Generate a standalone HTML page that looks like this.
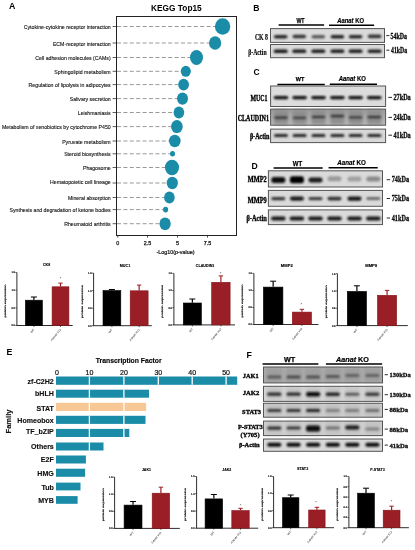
<!DOCTYPE html>
<html><head><meta charset="utf-8"><title>Figure</title>
<style>html,body{margin:0;padding:0;background:#fff;}body{width:415px;height:550px;overflow:hidden;}svg{display:block;}</style>
</head><body>
<svg width="415" height="550" viewBox="0 0 415 550">
<rect width="415" height="550" fill="#fff"/>
<text x="9.1" y="9.4" font-size="8.8" text-anchor="start" font-weight="bold" font-family="'Liberation Sans', Arial, sans-serif" fill="#000">A</text>
<text x="176.4" y="11.2" font-size="8.6" text-anchor="middle" font-weight="bold" font-family="'Liberation Sans', Arial, sans-serif" fill="#000" textLength="50.7" lengthAdjust="spacingAndGlyphs">KEGG Top15</text>
<line x1="117" y1="26.5" x2="222.6" y2="26.5" stroke="#8c8c8c" stroke-width="0.9" stroke-dasharray="4 2.4"/>
<line x1="117" y1="43.0" x2="215.1" y2="43.0" stroke="#8c8c8c" stroke-width="0.9" stroke-dasharray="4 2.4"/>
<line x1="117" y1="57.5" x2="196.5" y2="57.5" stroke="#8c8c8c" stroke-width="0.9" stroke-dasharray="4 2.4"/>
<line x1="117" y1="71.3" x2="185.8" y2="71.3" stroke="#8c8c8c" stroke-width="0.9" stroke-dasharray="4 2.4"/>
<line x1="117" y1="84.6" x2="183.6" y2="84.6" stroke="#8c8c8c" stroke-width="0.9" stroke-dasharray="4 2.4"/>
<line x1="117" y1="98.6" x2="182.5" y2="98.6" stroke="#8c8c8c" stroke-width="0.9" stroke-dasharray="4 2.4"/>
<line x1="117" y1="112.5" x2="178.9" y2="112.5" stroke="#8c8c8c" stroke-width="0.9" stroke-dasharray="4 2.4"/>
<line x1="117" y1="126.6" x2="176.9" y2="126.6" stroke="#8c8c8c" stroke-width="0.9" stroke-dasharray="4 2.4"/>
<line x1="117" y1="141.0" x2="174.8" y2="141.0" stroke="#8c8c8c" stroke-width="0.9" stroke-dasharray="4 2.4"/>
<line x1="117" y1="153.8" x2="172.5" y2="153.8" stroke="#8c8c8c" stroke-width="0.9" stroke-dasharray="4 2.4"/>
<line x1="117" y1="167.5" x2="172.0" y2="167.5" stroke="#8c8c8c" stroke-width="0.9" stroke-dasharray="4 2.4"/>
<line x1="117" y1="183.0" x2="172.3" y2="183.0" stroke="#8c8c8c" stroke-width="0.9" stroke-dasharray="4 2.4"/>
<line x1="117" y1="197.5" x2="169.4" y2="197.5" stroke="#8c8c8c" stroke-width="0.9" stroke-dasharray="4 2.4"/>
<line x1="117" y1="209.6" x2="165.6" y2="209.6" stroke="#8c8c8c" stroke-width="0.9" stroke-dasharray="4 2.4"/>
<line x1="117" y1="223.7" x2="165.1" y2="223.7" stroke="#8c8c8c" stroke-width="0.9" stroke-dasharray="4 2.4"/>
<text x="110.7" y="29.1" font-size="5.8" text-anchor="end" font-weight="normal" font-family="'Liberation Sans', Arial, sans-serif" fill="#111" textLength="86.99" lengthAdjust="spacingAndGlyphs" stroke="#111" stroke-width="0.12">Cytokine-cytokine receptor interaction</text>
<line x1="112.6" y1="26.5" x2="116.5" y2="26.5" stroke="#333" stroke-width="0.8"/>
<ellipse cx="222.6" cy="26.5" rx="7.7" ry="8.2" fill="#1a8ca8"/>
<text x="110.7" y="45.6" font-size="5.8" text-anchor="end" font-weight="normal" font-family="'Liberation Sans', Arial, sans-serif" fill="#111" textLength="57.8" lengthAdjust="spacingAndGlyphs" stroke="#111" stroke-width="0.12">ECM-receptor interaction</text>
<line x1="112.6" y1="43.0" x2="116.5" y2="43.0" stroke="#333" stroke-width="0.8"/>
<ellipse cx="215.1" cy="43.0" rx="6.1" ry="6.7" fill="#1a8ca8"/>
<text x="110.7" y="60.1" font-size="5.8" text-anchor="end" font-weight="normal" font-family="'Liberation Sans', Arial, sans-serif" fill="#111" textLength="75.42" lengthAdjust="spacingAndGlyphs" stroke="#111" stroke-width="0.12">Cell adhesion molecules (CAMs)</text>
<line x1="112.6" y1="57.5" x2="116.5" y2="57.5" stroke="#333" stroke-width="0.8"/>
<ellipse cx="196.5" cy="57.5" rx="6.5" ry="7.4" fill="#1a8ca8"/>
<text x="110.7" y="73.9" font-size="5.8" text-anchor="end" font-weight="normal" font-family="'Liberation Sans', Arial, sans-serif" fill="#111" textLength="56.36" lengthAdjust="spacingAndGlyphs" stroke="#111" stroke-width="0.12">Sphingolipid metabolism</text>
<line x1="112.6" y1="71.3" x2="116.5" y2="71.3" stroke="#333" stroke-width="0.8"/>
<ellipse cx="185.8" cy="71.3" rx="5.05" ry="5.5" fill="#1a8ca8"/>
<text x="110.7" y="87.2" font-size="5.8" text-anchor="end" font-weight="normal" font-family="'Liberation Sans', Arial, sans-serif" fill="#111" textLength="82.09" lengthAdjust="spacingAndGlyphs" stroke="#111" stroke-width="0.12">Regulation of lipolysis in adipocytes</text>
<line x1="112.6" y1="84.6" x2="116.5" y2="84.6" stroke="#333" stroke-width="0.8"/>
<ellipse cx="183.6" cy="84.6" rx="5.4" ry="5.8" fill="#1a8ca8"/>
<text x="110.7" y="101.2" font-size="5.8" text-anchor="end" font-weight="normal" font-family="'Liberation Sans', Arial, sans-serif" fill="#111" textLength="41.04" lengthAdjust="spacingAndGlyphs" stroke="#111" stroke-width="0.12">Salivary secretion</text>
<line x1="112.6" y1="98.6" x2="116.5" y2="98.6" stroke="#333" stroke-width="0.8"/>
<ellipse cx="182.5" cy="98.6" rx="5.5" ry="6.15" fill="#1a8ca8"/>
<text x="110.7" y="115.1" font-size="5.8" text-anchor="end" font-weight="normal" font-family="'Liberation Sans', Arial, sans-serif" fill="#111" textLength="32.95" lengthAdjust="spacingAndGlyphs" stroke="#111" stroke-width="0.12">Leishmaniasis</text>
<line x1="112.6" y1="112.5" x2="116.5" y2="112.5" stroke="#333" stroke-width="0.8"/>
<ellipse cx="178.9" cy="112.5" rx="5.3" ry="5.95" fill="#1a8ca8"/>
<text x="110.7" y="129.2" font-size="5.8" text-anchor="end" font-weight="normal" font-family="'Liberation Sans', Arial, sans-serif" fill="#111" textLength="108.67" lengthAdjust="spacingAndGlyphs" stroke="#111" stroke-width="0.12">Metabolism of xenobiotics by cytochrome P450</text>
<line x1="112.6" y1="126.6" x2="116.5" y2="126.6" stroke="#333" stroke-width="0.8"/>
<ellipse cx="176.9" cy="126.6" rx="5.85" ry="6.5" fill="#1a8ca8"/>
<text x="110.7" y="143.6" font-size="5.8" text-anchor="end" font-weight="normal" font-family="'Liberation Sans', Arial, sans-serif" fill="#111" textLength="48.55" lengthAdjust="spacingAndGlyphs" stroke="#111" stroke-width="0.12">Pyruvate metabolism</text>
<line x1="112.6" y1="141.0" x2="116.5" y2="141.0" stroke="#333" stroke-width="0.8"/>
<ellipse cx="174.8" cy="141.0" rx="5.8" ry="6.2" fill="#1a8ca8"/>
<text x="110.7" y="156.4" font-size="5.8" text-anchor="end" font-weight="normal" font-family="'Liberation Sans', Arial, sans-serif" fill="#111" textLength="46.53" lengthAdjust="spacingAndGlyphs" stroke="#111" stroke-width="0.12">Steroid biosynthesis</text>
<line x1="112.6" y1="153.8" x2="116.5" y2="153.8" stroke="#333" stroke-width="0.8"/>
<ellipse cx="172.5" cy="153.8" rx="2.5" ry="2.75" fill="#1a8ca8"/>
<text x="110.7" y="170.1" font-size="5.8" text-anchor="end" font-weight="normal" font-family="'Liberation Sans', Arial, sans-serif" fill="#111" textLength="27.75" lengthAdjust="spacingAndGlyphs" stroke="#111" stroke-width="0.12">Phagosome</text>
<line x1="112.6" y1="167.5" x2="116.5" y2="167.5" stroke="#333" stroke-width="0.8"/>
<ellipse cx="172.0" cy="167.5" rx="7.05" ry="7.8" fill="#1a8ca8"/>
<text x="110.7" y="184.0" font-size="5.8" text-anchor="end" font-weight="normal" font-family="'Liberation Sans', Arial, sans-serif" fill="#111" textLength="60.7" lengthAdjust="spacingAndGlyphs" stroke="#111" stroke-width="0.12">Hematopoietic cell lineage</text>
<line x1="112.6" y1="183.0" x2="116.5" y2="183.0" stroke="#333" stroke-width="0.8"/>
<ellipse cx="172.3" cy="183.0" rx="5.6" ry="6.25" fill="#1a8ca8"/>
<text x="110.7" y="200.1" font-size="5.8" text-anchor="end" font-weight="normal" font-family="'Liberation Sans', Arial, sans-serif" fill="#111" textLength="42.77" lengthAdjust="spacingAndGlyphs" stroke="#111" stroke-width="0.12">Mineral absorption</text>
<line x1="112.6" y1="197.5" x2="116.5" y2="197.5" stroke="#333" stroke-width="0.8"/>
<ellipse cx="169.4" cy="197.5" rx="5.3" ry="6.0" fill="#1a8ca8"/>
<text x="110.7" y="212.2" font-size="5.8" text-anchor="end" font-weight="normal" font-family="'Liberation Sans', Arial, sans-serif" fill="#111" textLength="101.18" lengthAdjust="spacingAndGlyphs" stroke="#111" stroke-width="0.12">Synthesis and degradation of ketone bodies</text>
<line x1="112.6" y1="209.6" x2="116.5" y2="209.6" stroke="#333" stroke-width="0.8"/>
<ellipse cx="165.6" cy="209.6" rx="2.55" ry="2.85" fill="#1a8ca8"/>
<text x="110.7" y="226.3" font-size="5.8" text-anchor="end" font-weight="normal" font-family="'Liberation Sans', Arial, sans-serif" fill="#111" textLength="46.53" lengthAdjust="spacingAndGlyphs" stroke="#111" stroke-width="0.12">Rheumatoid arthritis</text>
<line x1="112.6" y1="223.7" x2="116.5" y2="223.7" stroke="#333" stroke-width="0.8"/>
<ellipse cx="165.1" cy="223.7" rx="5.65" ry="6.3" fill="#1a8ca8"/>
<rect x="116.5" y="16.5" width="120" height="219" fill="none" stroke="#222" stroke-width="1"/>
<line x1="117.8" y1="235.5" x2="117.8" y2="237.6" stroke="#222" stroke-width="0.8"/>
<text x="117.8" y="245.0" font-size="5.4" text-anchor="middle" font-weight="normal" font-family="'Liberation Sans', Arial, sans-serif" fill="#111" stroke="#111" stroke-width="0.25">0</text>
<line x1="147.5" y1="235.5" x2="147.5" y2="237.6" stroke="#222" stroke-width="0.8"/>
<text x="147.5" y="245.0" font-size="5.4" text-anchor="middle" font-weight="normal" font-family="'Liberation Sans', Arial, sans-serif" fill="#111" stroke="#111" stroke-width="0.25">2.5</text>
<line x1="177.5" y1="235.5" x2="177.5" y2="237.6" stroke="#222" stroke-width="0.8"/>
<text x="177.5" y="245.0" font-size="5.4" text-anchor="middle" font-weight="normal" font-family="'Liberation Sans', Arial, sans-serif" fill="#111" stroke="#111" stroke-width="0.25">5</text>
<line x1="207.5" y1="235.5" x2="207.5" y2="237.6" stroke="#222" stroke-width="0.8"/>
<text x="207.5" y="245.0" font-size="5.4" text-anchor="middle" font-weight="normal" font-family="'Liberation Sans', Arial, sans-serif" fill="#111" stroke="#111" stroke-width="0.25">7.5</text>
<text x="175.5" y="253.9" font-size="5.6" text-anchor="middle" font-weight="normal" font-family="'Liberation Sans', Arial, sans-serif" fill="#111" textLength="38" lengthAdjust="spacingAndGlyphs" stroke="#111" stroke-width="0.22">-Log10(p-value)</text>
<defs><filter id="b1" x="-30%" y="-80%" width="160%" height="260%"><feGaussianBlur stdDeviation="0.8"/></filter><filter id="b2" x="-30%" y="-80%" width="160%" height="260%"><feGaussianBlur stdDeviation="1.1"/></filter><filter id="b3" x="-30%" y="-30%" width="160%" height="160%"><feGaussianBlur stdDeviation="1.5"/></filter></defs>
<text x="253.2" y="11.0" font-size="8.6" text-anchor="start" font-weight="bold" font-family="'Liberation Sans', Arial, sans-serif" fill="#000">B</text>
<text x="296.4" y="23.4" font-size="7.1" text-anchor="start" font-weight="bold" font-family="'Liberation Sans', Arial, sans-serif" fill="#000" textLength="8.2" lengthAdjust="spacingAndGlyphs" stroke="#000" stroke-width="0.25">WT</text>
<line x1="278.6" y1="25.1" x2="324.1" y2="25.1" stroke="#000" stroke-width="1.5"/>
<text x="337.3" y="22.8" font-size="7.4" font-weight="bold" font-family="'Liberation Sans', Arial, sans-serif" stroke="#000" stroke-width="0.2" textLength="26.7" lengthAdjust="spacingAndGlyphs"><tspan font-style="italic">Aanat</tspan> KO</text>
<line x1="329.0" y1="25.2" x2="374.1" y2="25.2" stroke="#000" stroke-width="1.5"/>
<rect x="270.5" y="28.6" width="114.0" height="13.8" fill="#dadada"/>
<rect x="270.5" y="28.6" width="114.0" height="13.8" fill="none" stroke="#555" stroke-width="1"/>
<rect x="273.90" y="35.00" width="13.6" height="3.6" rx="1.8" fill="#262626" filter="url(#b1)"/>
<rect x="292.50" y="34.70" width="13.6" height="3.6" rx="1.8" fill="#303030" filter="url(#b1)"/>
<rect x="311.50" y="35.00" width="13.6" height="3.6" rx="1.8" fill="#5a5a5a" filter="url(#b1)"/>
<rect x="330.60" y="35.00" width="13.6" height="3.6" rx="1.8" fill="#202020" filter="url(#b1)"/>
<rect x="348.80" y="35.00" width="13.6" height="3.6" rx="1.8" fill="#282828" filter="url(#b1)"/>
<rect x="367.80" y="34.60" width="13.6" height="3.6" rx="1.8" fill="#353535" filter="url(#b1)"/>
<rect x="270.5" y="44.5" width="114.0" height="13.2" fill="#dadada"/>
<rect x="270.5" y="44.5" width="114.0" height="13.2" fill="none" stroke="#555" stroke-width="1"/>
<rect x="273.70" y="49.40" width="14" height="3.6" rx="1.8" fill="#151515" filter="url(#b1)"/>
<rect x="292.30" y="49.40" width="14" height="3.6" rx="1.8" fill="#1a1a1a" filter="url(#b1)"/>
<rect x="311.30" y="49.40" width="14" height="3.6" rx="1.8" fill="#1a1a1a" filter="url(#b1)"/>
<rect x="330.40" y="49.40" width="14" height="3.6" rx="1.8" fill="#1a1a1a" filter="url(#b1)"/>
<rect x="348.60" y="49.40" width="14" height="3.6" rx="1.8" fill="#1a1a1a" filter="url(#b1)"/>
<rect x="367.60" y="49.40" width="14" height="3.6" rx="1.8" fill="#222" filter="url(#b1)"/>
<text x="268" y="39.9" font-size="7.2" text-anchor="end" font-weight="bold" font-family="'Liberation Serif', 'Times New Roman', serif" fill="#000" textLength="13.1" lengthAdjust="spacingAndGlyphs" stroke="#000" stroke-width="0.15">CK 8</text>
<text x="266.6" y="54.9" font-size="7.2" text-anchor="end" font-weight="bold" font-family="'Liberation Serif', 'Times New Roman', serif" fill="#000" textLength="18.4" lengthAdjust="spacingAndGlyphs" stroke="#000" stroke-width="0.15">β-Actin</text>
<line x1="386.3" y1="35.6" x2="389.4" y2="35.6" stroke="#111" stroke-width="0.9"/>
<text x="390.5" y="38.5" font-size="7.6" text-anchor="start" font-weight="bold" font-family="'Liberation Serif', 'Times New Roman', serif" fill="#111" textLength="16.6" lengthAdjust="spacingAndGlyphs" stroke="#111" stroke-width="0.32">54kDa</text>
<line x1="386.3" y1="50.2" x2="389.4" y2="50.2" stroke="#111" stroke-width="0.9"/>
<text x="391.0" y="53.1" font-size="7.6" text-anchor="start" font-weight="bold" font-family="'Liberation Serif', 'Times New Roman', serif" fill="#111" textLength="16.1" lengthAdjust="spacingAndGlyphs" stroke="#111" stroke-width="0.32">41kDa</text>
<text x="253.6" y="74.6" font-size="8.6" text-anchor="start" font-weight="bold" font-family="'Liberation Sans', Arial, sans-serif" fill="#000">C</text>
<text x="295.8" y="81.1" font-size="6.0" text-anchor="start" font-weight="bold" font-family="'Liberation Sans', Arial, sans-serif" fill="#000" textLength="8.5" lengthAdjust="spacingAndGlyphs" stroke="#000" stroke-width="0.25">WT</text>
<line x1="277.4" y1="84.4" x2="324.8" y2="84.4" stroke="#000" stroke-width="1.5"/>
<text x="338.7" y="80.6" font-size="7.2" font-weight="bold" font-family="'Liberation Sans', Arial, sans-serif" stroke="#000" stroke-width="0.2" textLength="27.2" lengthAdjust="spacingAndGlyphs"><tspan font-style="italic">Aanat</tspan> KO</text>
<line x1="329.8" y1="84.2" x2="377.0" y2="84.2" stroke="#000" stroke-width="1.5"/>
<rect x="270.6" y="86.0" width="115.0" height="20.5" fill="#dcdcdc"/>
<rect x="270.6" y="86.0" width="115.0" height="20.5" fill="none" stroke="#555" stroke-width="1"/>
<rect x="273.75" y="95.90" width="14.5" height="3.4" rx="1.7" fill="#080808" filter="url(#b1)"/>
<rect x="292.35" y="95.90" width="14.5" height="3.4" rx="1.7" fill="#080808" filter="url(#b1)"/>
<rect x="311.25" y="95.90" width="14.5" height="3.4" rx="1.7" fill="#080808" filter="url(#b1)"/>
<rect x="330.15" y="95.90" width="14.5" height="3.4" rx="1.7" fill="#080808" filter="url(#b1)"/>
<rect x="348.35" y="95.90" width="14.5" height="3.4" rx="1.7" fill="#080808" filter="url(#b1)"/>
<rect x="367.05" y="95.90" width="14.5" height="3.4" rx="1.7" fill="#080808" filter="url(#b1)"/>
<defs><linearGradient id="lg113" x1="0" y1="0" x2="0" y2="1"><stop offset="0" stop-color="#9a9a9a"/><stop offset="1" stop-color="#bababa"/></linearGradient></defs>
<rect x="270.6" y="109.1" width="115.0" height="16.1" fill="url(#lg113)"/>
<rect x="274.00" y="110.1" width="14" height="14.1" fill="#8e8e8e" filter="url(#b3)"/>
<rect x="292.60" y="110.1" width="14" height="14.1" fill="#8e8e8e" filter="url(#b3)"/>
<rect x="311.50" y="110.1" width="14" height="14.1" fill="#8e8e8e" filter="url(#b3)"/>
<rect x="330.40" y="110.1" width="14" height="14.1" fill="#8e8e8e" filter="url(#b3)"/>
<rect x="348.60" y="110.1" width="14" height="14.1" fill="#8e8e8e" filter="url(#b3)"/>
<rect x="367.30" y="110.1" width="14" height="14.1" fill="#8e8e8e" filter="url(#b3)"/>
<rect x="270.6" y="109.1" width="115.0" height="16.1" fill="none" stroke="#555" stroke-width="1"/>
<rect x="274.25" y="116.50" width="13.5" height="2.2" rx="1.1" fill="#333" filter="url(#b1)"/>
<rect x="292.85" y="116.70" width="13.5" height="2.2" rx="1.1" fill="#404040" filter="url(#b1)"/>
<rect x="311.75" y="115.90" width="13.5" height="2.2" rx="1.1" fill="#2e2e2e" filter="url(#b1)"/>
<rect x="330.65" y="115.10" width="13.5" height="2.2" rx="1.1" fill="#2e2e2e" filter="url(#b1)"/>
<rect x="348.85" y="116.30" width="13.5" height="2.2" rx="1.1" fill="#383838" filter="url(#b1)"/>
<rect x="367.55" y="116.10" width="13.5" height="2.2" rx="1.1" fill="#2e2e2e" filter="url(#b1)"/>
<rect x="270.6" y="129.1" width="115.0" height="13.5" fill="#d8d8d8"/>
<rect x="270.6" y="129.1" width="115.0" height="13.5" fill="none" stroke="#555" stroke-width="1"/>
<rect x="274.00" y="133.90" width="14" height="3.0" rx="1.5" fill="#262626" filter="url(#b1)"/>
<rect x="292.60" y="133.90" width="14" height="3.0" rx="1.5" fill="#262626" filter="url(#b1)"/>
<rect x="311.50" y="133.90" width="14" height="3.0" rx="1.5" fill="#262626" filter="url(#b1)"/>
<rect x="330.40" y="133.90" width="14" height="3.0" rx="1.5" fill="#262626" filter="url(#b1)"/>
<rect x="348.60" y="133.90" width="14" height="3.0" rx="1.5" fill="#262626" filter="url(#b1)"/>
<rect x="367.30" y="133.90" width="14" height="3.0" rx="1.5" fill="#262626" filter="url(#b1)"/>
<text x="267.4" y="100.6" font-size="7.3" text-anchor="end" font-weight="bold" font-family="'Liberation Serif', 'Times New Roman', serif" fill="#000" textLength="17" lengthAdjust="spacingAndGlyphs" stroke="#000" stroke-width="0.32">MUC1</text>
<text x="269.0" y="120.8" font-size="7.3" text-anchor="end" font-weight="bold" font-family="'Liberation Serif', 'Times New Roman', serif" fill="#000" textLength="31.3" lengthAdjust="spacingAndGlyphs" stroke="#000" stroke-width="0.32">CLAUDIN1</text>
<text x="269.4" y="139.2" font-size="7.3" text-anchor="end" font-weight="bold" font-family="'Liberation Serif', 'Times New Roman', serif" fill="#000" textLength="19.5" lengthAdjust="spacingAndGlyphs" stroke="#000" stroke-width="0.32">β-Actin</text>
<line x1="388.3" y1="97.4" x2="392.0" y2="97.4" stroke="#111" stroke-width="0.9"/>
<text x="393.5" y="99.9" font-size="7.2" text-anchor="start" font-weight="bold" font-family="'Liberation Serif', 'Times New Roman', serif" fill="#111" textLength="17.2" lengthAdjust="spacingAndGlyphs" stroke="#111" stroke-width="0.32">27kDa</text>
<line x1="388.3" y1="117.4" x2="392.0" y2="117.4" stroke="#111" stroke-width="0.9"/>
<text x="393.5" y="119.9" font-size="7.2" text-anchor="start" font-weight="bold" font-family="'Liberation Serif', 'Times New Roman', serif" fill="#111" textLength="17.2" lengthAdjust="spacingAndGlyphs" stroke="#111" stroke-width="0.32">24kDa</text>
<line x1="388.3" y1="135.2" x2="392.0" y2="135.2" stroke="#111" stroke-width="0.9"/>
<text x="393.5" y="137.7" font-size="7.2" text-anchor="start" font-weight="bold" font-family="'Liberation Serif', 'Times New Roman', serif" fill="#111" textLength="17.2" lengthAdjust="spacingAndGlyphs" stroke="#111" stroke-width="0.32">41kDa</text>
<text x="251.4" y="168.8" font-size="8.6" text-anchor="start" font-weight="bold" font-family="'Liberation Sans', Arial, sans-serif" fill="#000">D</text>
<text x="292.7" y="165.6" font-size="7.7" text-anchor="start" font-weight="bold" font-family="'Liberation Sans', Arial, sans-serif" fill="#000" textLength="9.4" lengthAdjust="spacingAndGlyphs" stroke="#000" stroke-width="0.25">WT</text>
<line x1="273.6" y1="167.9" x2="322.7" y2="167.9" stroke="#000" stroke-width="1.5"/>
<text x="337.3" y="165.3" font-size="8.1" font-weight="bold" font-family="'Liberation Sans', Arial, sans-serif" stroke="#000" stroke-width="0.2" textLength="28.5" lengthAdjust="spacingAndGlyphs"><tspan font-style="italic">Aanat</tspan> KO</text>
<line x1="328.6" y1="167.7" x2="377.7" y2="167.7" stroke="#000" stroke-width="1.5"/>
<rect x="268.4" y="170.8" width="114.1" height="16.2" fill="#dadada"/>
<rect x="268.4" y="170.8" width="114.1" height="16.2" fill="none" stroke="#555" stroke-width="1"/>
<rect x="271.30" y="177.00" width="14" height="6" rx="2.5" fill="#101010" filter="url(#b1)"/>
<rect x="289.90" y="176.20" width="14" height="7" rx="2.5" fill="#050505" filter="url(#b1)"/>
<rect x="308.50" y="177.50" width="14" height="5" rx="2.5" fill="#1c1c1c" filter="url(#b1)"/>
<rect x="327.50" y="176.30" width="14" height="5" rx="2.5" fill="#9a9a9a" filter="url(#b1)"/>
<rect x="347.50" y="176.50" width="14" height="5" rx="2.5" fill="#a0a0a0" filter="url(#b1)"/>
<rect x="366.30" y="176.50" width="14" height="5" rx="2.5" fill="#8a8a8a" filter="url(#b1)"/>
<rect x="268.4" y="190.4" width="114.1" height="15.9" fill="#dadada"/>
<rect x="268.4" y="190.4" width="114.1" height="15.9" fill="none" stroke="#555" stroke-width="1"/>
<rect x="271.30" y="197.00" width="14" height="3.2" rx="1.6" fill="#363636" filter="url(#b1)"/>
<rect x="289.90" y="196.50" width="14" height="4.2" rx="2.1" fill="#1a1a1a" filter="url(#b1)"/>
<rect x="308.50" y="196.90" width="14" height="3.4" rx="1.7" fill="#3c3c3c" filter="url(#b1)"/>
<rect x="327.50" y="196.80" width="14" height="3.6" rx="1.8" fill="#303030" filter="url(#b1)"/>
<rect x="347.50" y="196.40" width="14" height="4.4" rx="2.2" fill="#121212" filter="url(#b1)"/>
<rect x="366.30" y="197.10" width="14" height="3.0" rx="1.5" fill="#6a6a6a" filter="url(#b1)"/>
<rect x="268.4" y="209.9" width="114.1" height="14.7" fill="#dadada"/>
<rect x="268.4" y="209.9" width="114.1" height="14.7" fill="none" stroke="#555" stroke-width="1"/>
<rect x="271.05" y="216.40" width="14.5" height="4.0" rx="2.0" fill="#161616" filter="url(#b1)"/>
<rect x="289.65" y="216.40" width="14.5" height="4.0" rx="2.0" fill="#161616" filter="url(#b1)"/>
<rect x="308.25" y="216.40" width="14.5" height="4.0" rx="2.0" fill="#161616" filter="url(#b1)"/>
<rect x="327.25" y="216.40" width="14.5" height="4.0" rx="2.0" fill="#161616" filter="url(#b1)"/>
<rect x="347.25" y="216.40" width="14.5" height="4.0" rx="2.0" fill="#161616" filter="url(#b1)"/>
<rect x="366.05" y="216.40" width="14.5" height="4.0" rx="2.0" fill="#161616" filter="url(#b1)"/>
<text x="266.8" y="182.0" font-size="7.4" text-anchor="end" font-weight="bold" font-family="'Liberation Serif', 'Times New Roman', serif" fill="#000" textLength="19" lengthAdjust="spacingAndGlyphs" stroke="#000" stroke-width="0.32">MMP2</text>
<text x="266.8" y="202.8" font-size="7.4" text-anchor="end" font-weight="bold" font-family="'Liberation Serif', 'Times New Roman', serif" fill="#000" textLength="19" lengthAdjust="spacingAndGlyphs" stroke="#000" stroke-width="0.32">MMP9</text>
<text x="266.8" y="220.6" font-size="7.4" text-anchor="end" font-weight="bold" font-family="'Liberation Serif', 'Times New Roman', serif" fill="#000" textLength="20.3" lengthAdjust="spacingAndGlyphs" stroke="#000" stroke-width="0.32">β-Actin</text>
<line x1="386.7" y1="179.7" x2="390.0" y2="179.7" stroke="#111" stroke-width="0.9"/>
<text x="391.7" y="182.4" font-size="8.0" text-anchor="start" font-weight="bold" font-family="'Liberation Serif', 'Times New Roman', serif" fill="#111" textLength="17.4" lengthAdjust="spacingAndGlyphs" stroke="#111" stroke-width="0.32">74kDa</text>
<line x1="386.7" y1="198.5" x2="390.0" y2="198.5" stroke="#111" stroke-width="0.9"/>
<text x="391.7" y="201.1" font-size="8.0" text-anchor="start" font-weight="bold" font-family="'Liberation Serif', 'Times New Roman', serif" fill="#111" textLength="17.4" lengthAdjust="spacingAndGlyphs" stroke="#111" stroke-width="0.32">75kDa</text>
<line x1="386.7" y1="218.0" x2="390.0" y2="218.0" stroke="#111" stroke-width="0.9"/>
<text x="391.7" y="220.6" font-size="8.0" text-anchor="start" font-weight="bold" font-family="'Liberation Serif', 'Times New Roman', serif" fill="#111" textLength="17.4" lengthAdjust="spacingAndGlyphs" stroke="#111" stroke-width="0.32">41kDa</text>
<text x="246.5" y="358.4" font-size="8.8" text-anchor="start" font-weight="bold" font-family="'Liberation Sans', Arial, sans-serif" fill="#000">F</text>
<text x="284.0" y="362.2" font-size="7.2" text-anchor="start" font-weight="bold" font-family="'Liberation Sans', Arial, sans-serif" fill="#000" textLength="11.2" lengthAdjust="spacingAndGlyphs" stroke="#000" stroke-width="0.25">WT</text>
<line x1="262.6" y1="364.0" x2="318.4" y2="364.0" stroke="#000" stroke-width="1.5"/>
<text x="336.0" y="361.8" font-size="7.1" font-weight="bold" font-family="'Liberation Sans', Arial, sans-serif" stroke="#000" stroke-width="0.2" textLength="32.9" lengthAdjust="spacingAndGlyphs"><tspan font-style="italic">Aanat</tspan> KO</text>
<line x1="325.9" y1="364.0" x2="382.1" y2="364.0" stroke="#000" stroke-width="1.5"/>
<rect x="263.5" y="367.0" width="119.0" height="15.9" fill="#ababab"/>
<rect x="266.30" y="368.0" width="16" height="13.9" fill="#9e9e9e" filter="url(#b3)"/>
<rect x="285.60" y="368.0" width="16" height="13.9" fill="#9e9e9e" filter="url(#b3)"/>
<rect x="305.10" y="368.0" width="16" height="13.9" fill="#9e9e9e" filter="url(#b3)"/>
<rect x="324.80" y="368.0" width="16" height="13.9" fill="#9e9e9e" filter="url(#b3)"/>
<rect x="344.30" y="368.0" width="16" height="13.9" fill="#9e9e9e" filter="url(#b3)"/>
<rect x="364.40" y="368.0" width="16" height="13.9" fill="#9e9e9e" filter="url(#b3)"/>
<rect x="263.5" y="367.0" width="119.0" height="15.9" fill="none" stroke="#555" stroke-width="1"/>
<rect x="267.30" y="375.50" width="14" height="3.0" rx="1.5" fill="#585858" filter="url(#b2)"/>
<rect x="286.60" y="375.50" width="14" height="3.0" rx="1.5" fill="#4a4a4a" filter="url(#b2)"/>
<rect x="306.10" y="375.50" width="14" height="3.0" rx="1.5" fill="#505050" filter="url(#b2)"/>
<rect x="325.80" y="374.90" width="14" height="3.0" rx="1.5" fill="#575757" filter="url(#b2)"/>
<rect x="345.30" y="374.10" width="14" height="3.0" rx="1.5" fill="#606060" filter="url(#b2)"/>
<rect x="365.40" y="373.90" width="14" height="3.0" rx="1.5" fill="#626262" filter="url(#b2)"/>
<rect x="263.5" y="386.3" width="119.0" height="15.1" fill="#d4d4d4"/>
<rect x="266.80" y="387.3" width="15" height="13.1" fill="#c6c6c6" filter="url(#b3)"/>
<rect x="286.10" y="387.3" width="15" height="13.1" fill="#c6c6c6" filter="url(#b3)"/>
<rect x="305.60" y="387.3" width="15" height="13.1" fill="#c6c6c6" filter="url(#b3)"/>
<rect x="325.30" y="387.3" width="15" height="13.1" fill="#c6c6c6" filter="url(#b3)"/>
<rect x="344.80" y="387.3" width="15" height="13.1" fill="#c6c6c6" filter="url(#b3)"/>
<rect x="364.90" y="387.3" width="15" height="13.1" fill="#c6c6c6" filter="url(#b3)"/>
<rect x="263.5" y="386.3" width="119.0" height="15.1" fill="none" stroke="#555" stroke-width="1"/>
<rect x="267.20" y="392.60" width="14.2" height="3.2" rx="1.6" fill="#2a2a2a" filter="url(#b1)"/>
<rect x="286.50" y="392.60" width="14.2" height="3.2" rx="1.6" fill="#2c2c2c" filter="url(#b1)"/>
<rect x="306.00" y="391.90" width="14.2" height="4.6" rx="2.3" fill="#0e0e0e" filter="url(#b1)"/>
<rect x="325.70" y="392.40" width="14.2" height="3.6" rx="1.8" fill="#262626" filter="url(#b1)"/>
<rect x="345.20" y="392.70" width="14.2" height="3" rx="1.5" fill="#5a5a5a" filter="url(#b1)"/>
<rect x="365.30" y="392.50" width="14.2" height="3.4" rx="1.7" fill="#3e3e3e" filter="url(#b1)"/>
<rect x="263.5" y="403.3" width="119.0" height="13.9" fill="#cdcdcd"/>
<rect x="266.80" y="404.3" width="15" height="11.9" fill="#c0c0c0" filter="url(#b3)"/>
<rect x="286.10" y="404.3" width="15" height="11.9" fill="#c0c0c0" filter="url(#b3)"/>
<rect x="305.60" y="404.3" width="15" height="11.9" fill="#c0c0c0" filter="url(#b3)"/>
<rect x="325.30" y="404.3" width="15" height="11.9" fill="#c0c0c0" filter="url(#b3)"/>
<rect x="344.80" y="404.3" width="15" height="11.9" fill="#c0c0c0" filter="url(#b3)"/>
<rect x="364.90" y="404.3" width="15" height="11.9" fill="#c0c0c0" filter="url(#b3)"/>
<rect x="263.5" y="403.3" width="119.0" height="13.9" fill="none" stroke="#555" stroke-width="1"/>
<rect x="267.20" y="409.00" width="14.2" height="3.0" rx="1.5" fill="#3a3a3a" filter="url(#b1)"/>
<rect x="286.50" y="409.00" width="14.2" height="3.0" rx="1.5" fill="#333" filter="url(#b1)"/>
<rect x="306.00" y="409.00" width="14.2" height="3.0" rx="1.5" fill="#222" filter="url(#b1)"/>
<rect x="325.70" y="409.00" width="14.2" height="3.0" rx="1.5" fill="#808080" filter="url(#b1)"/>
<rect x="345.20" y="409.00" width="14.2" height="3.0" rx="1.5" fill="#7c7c7c" filter="url(#b1)"/>
<rect x="365.30" y="409.00" width="14.2" height="3.0" rx="1.5" fill="#6e6e6e" filter="url(#b1)"/>
<rect x="263.5" y="421.1" width="119.0" height="14.5" fill="#cfcfcf"/>
<rect x="266.80" y="422.1" width="15" height="12.5" fill="#c2c2c2" filter="url(#b3)"/>
<rect x="286.10" y="422.1" width="15" height="12.5" fill="#c2c2c2" filter="url(#b3)"/>
<rect x="305.60" y="422.1" width="15" height="12.5" fill="#c2c2c2" filter="url(#b3)"/>
<rect x="325.30" y="422.1" width="15" height="12.5" fill="#c2c2c2" filter="url(#b3)"/>
<rect x="344.80" y="422.1" width="15" height="12.5" fill="#c2c2c2" filter="url(#b3)"/>
<rect x="364.90" y="422.1" width="15" height="12.5" fill="#c2c2c2" filter="url(#b3)"/>
<rect x="263.5" y="421.1" width="119.0" height="14.5" fill="none" stroke="#555" stroke-width="1"/>
<rect x="267.20" y="426.50" width="14.2" height="3.2" rx="1.6" fill="#303030" filter="url(#b1)"/>
<rect x="286.50" y="426.60" width="14.2" height="3.0" rx="1.5" fill="#383838" filter="url(#b1)"/>
<rect x="306.00" y="425.40" width="14.2" height="6" rx="2.5" fill="#080808" filter="url(#b1)"/>
<rect x="325.70" y="426.60" width="14.2" height="3" rx="1.5" fill="#727272" filter="url(#b1)"/>
<rect x="345.20" y="425.50" width="14.2" height="4" rx="2.0" fill="#1a1a1a" filter="url(#b1)"/>
<rect x="365.30" y="427.40" width="14.2" height="3" rx="1.5" fill="#828282" filter="url(#b1)"/>
<rect x="263.5" y="439.0" width="119.0" height="12.3" fill="#d8d8d8"/>
<rect x="263.5" y="439.0" width="119.0" height="12.3" fill="none" stroke="#555" stroke-width="1"/>
<rect x="267.20" y="442.80" width="14.2" height="4.0" rx="2.0" fill="#111" filter="url(#b1)"/>
<rect x="286.50" y="442.80" width="14.2" height="4.0" rx="2.0" fill="#111" filter="url(#b1)"/>
<rect x="306.00" y="442.80" width="14.2" height="4.0" rx="2.0" fill="#111" filter="url(#b1)"/>
<rect x="325.70" y="442.80" width="14.2" height="4.0" rx="2.0" fill="#111" filter="url(#b1)"/>
<rect x="345.20" y="442.80" width="14.2" height="4.0" rx="2.0" fill="#111" filter="url(#b1)"/>
<rect x="365.30" y="442.80" width="14.2" height="4.0" rx="2.0" fill="#111" filter="url(#b1)"/>
<text x="258.7" y="377.8" font-size="6.8" text-anchor="end" font-weight="bold" font-family="'Liberation Serif', 'Times New Roman', serif" fill="#000" textLength="16" lengthAdjust="spacingAndGlyphs" stroke="#000" stroke-width="0.32">JAK1</text>
<text x="259.3" y="395.4" font-size="6.8" text-anchor="end" font-weight="bold" font-family="'Liberation Serif', 'Times New Roman', serif" fill="#000" textLength="16.6" lengthAdjust="spacingAndGlyphs" stroke="#000" stroke-width="0.32">JAK2</text>
<text x="261.0" y="414.0" font-size="6.8" text-anchor="end" font-weight="bold" font-family="'Liberation Serif', 'Times New Roman', serif" fill="#000" textLength="18.9" lengthAdjust="spacingAndGlyphs" stroke="#000" stroke-width="0.32">STAT3</text>
<text x="262.8" y="429.4" font-size="6.6" text-anchor="end" font-weight="bold" font-family="'Liberation Serif', 'Times New Roman', serif" fill="#000" textLength="24.9" lengthAdjust="spacingAndGlyphs" stroke="#000" stroke-width="0.32">P-STAT3</text>
<text x="259.6" y="436.8" font-size="6.6" text-anchor="end" font-weight="bold" font-family="'Liberation Serif', 'Times New Roman', serif" fill="#000" textLength="19.0" lengthAdjust="spacingAndGlyphs" stroke="#000" stroke-width="0.32">(Y705)</text>
<text x="259.6" y="446.5" font-size="6.6" text-anchor="end" font-weight="bold" font-family="'Liberation Serif', 'Times New Roman', serif" fill="#000" textLength="20.6" lengthAdjust="spacingAndGlyphs" stroke="#000" stroke-width="0.32">β-Actin</text>
<line x1="384.7" y1="374.7" x2="387.9" y2="374.7" stroke="#111" stroke-width="0.9"/>
<text x="389.5" y="377.2" font-size="6.8" text-anchor="start" font-weight="bold" font-family="'Liberation Serif', 'Times New Roman', serif" fill="#111" textLength="21.3" lengthAdjust="spacingAndGlyphs" stroke="#111" stroke-width="0.32">130kDa</text>
<line x1="384.7" y1="394.7" x2="387.9" y2="394.7" stroke="#111" stroke-width="0.9"/>
<text x="389.5" y="397.2" font-size="6.8" text-anchor="start" font-weight="bold" font-family="'Liberation Serif', 'Times New Roman', serif" fill="#111" textLength="21.3" lengthAdjust="spacingAndGlyphs" stroke="#111" stroke-width="0.32">130kDa</text>
<line x1="384.7" y1="409.4" x2="387.9" y2="409.4" stroke="#111" stroke-width="0.9"/>
<text x="389.5" y="411.9" font-size="6.8" text-anchor="start" font-weight="bold" font-family="'Liberation Serif', 'Times New Roman', serif" fill="#111" textLength="18.6" lengthAdjust="spacingAndGlyphs" stroke="#111" stroke-width="0.32">88kDa</text>
<line x1="384.7" y1="429.1" x2="387.9" y2="429.1" stroke="#111" stroke-width="0.9"/>
<text x="389.5" y="431.6" font-size="6.8" text-anchor="start" font-weight="bold" font-family="'Liberation Serif', 'Times New Roman', serif" fill="#111" textLength="18.6" lengthAdjust="spacingAndGlyphs" stroke="#111" stroke-width="0.32">88kDa</text>
<line x1="384.7" y1="445.1" x2="387.9" y2="445.1" stroke="#111" stroke-width="0.9"/>
<text x="389.5" y="447.6" font-size="6.8" text-anchor="start" font-weight="bold" font-family="'Liberation Serif', 'Times New Roman', serif" fill="#111" textLength="18.6" lengthAdjust="spacingAndGlyphs" stroke="#111" stroke-width="0.32">41kDa</text>
<line x1="16.9" y1="272.5" x2="16.9" y2="325.5" stroke="#222" stroke-width="0.95"/>
<line x1="16.4" y1="325.5" x2="72.7" y2="325.5" stroke="#222" stroke-width="0.95"/>
<line x1="15.299999999999999" y1="325.50" x2="16.9" y2="325.50" stroke="#222" stroke-width="0.7"/>
<text x="0" y="0" font-size="10" text-rendering="geometricPrecision" text-anchor="end" font-weight="normal" font-family="'Liberation Sans', Arial, sans-serif" fill="#111" stroke="#111" stroke-width="0.69" transform="translate(15.00,326.40) scale(0.260)">0.0</text>
<line x1="15.299999999999999" y1="307.83" x2="16.9" y2="307.83" stroke="#222" stroke-width="0.7"/>
<text x="0" y="0" font-size="10" text-rendering="geometricPrecision" text-anchor="end" font-weight="normal" font-family="'Liberation Sans', Arial, sans-serif" fill="#111" stroke="#111" stroke-width="0.69" transform="translate(15.00,308.73) scale(0.260)">0.5</text>
<line x1="15.299999999999999" y1="290.17" x2="16.9" y2="290.17" stroke="#222" stroke-width="0.7"/>
<text x="0" y="0" font-size="10" text-rendering="geometricPrecision" text-anchor="end" font-weight="normal" font-family="'Liberation Sans', Arial, sans-serif" fill="#111" stroke="#111" stroke-width="0.69" transform="translate(15.00,291.07) scale(0.260)">1.0</text>
<line x1="15.299999999999999" y1="272.50" x2="16.9" y2="272.50" stroke="#222" stroke-width="0.7"/>
<text x="0" y="0" font-size="10" text-rendering="geometricPrecision" text-anchor="end" font-weight="normal" font-family="'Liberation Sans', Arial, sans-serif" fill="#111" stroke="#111" stroke-width="0.69" transform="translate(15.00,273.40) scale(0.260)">1.5</text>
<text x="0" y="0" font-size="10" text-rendering="geometricPrecision" text-anchor="middle" font-weight="normal" font-family="'Liberation Sans', Arial, sans-serif" fill="#111" stroke="#111" stroke-width="0.65" textLength="143.48" lengthAdjust="spacingAndGlyphs" transform="translate(6.30,301.10) rotate(-90) scale(0.230)">protein expression</text>
<rect x="25.40" y="300.20" width="17.0" height="25.3" fill="#000" stroke="#000" stroke-width="0.6"/>
<line x1="33.900000000000006" y1="297.0" x2="33.900000000000006" y2="299.9" stroke="#000" stroke-width="1.2"/>
<line x1="30.900000000000006" y1="297.0" x2="36.900000000000006" y2="297.0" stroke="#000" stroke-width="1"/>
<line x1="33.900000000000006" y1="325.5" x2="33.900000000000006" y2="327.0" stroke="#000" stroke-width="0.6"/>
<rect x="52.10" y="286.80" width="16.8" height="38.7" fill="#9a1e25" stroke="#861216" stroke-width="0.6"/>
<line x1="60.5" y1="283.1" x2="60.5" y2="286.5" stroke="#9a1e25" stroke-width="1.2"/>
<line x1="58.3" y1="283.1" x2="62.7" y2="283.1" stroke="#9a1e25" stroke-width="1"/>
<line x1="60.5" y1="325.5" x2="60.5" y2="327.0" stroke="#000" stroke-width="0.6"/>
<text x="46.6" y="266.4" font-size="3.9" text-anchor="middle" font-weight="bold" font-family="'Liberation Sans', Arial, sans-serif" fill="#000" textLength="7.2" lengthAdjust="spacingAndGlyphs" stroke="#000" stroke-width="0.12">CK8</text>
<text x="60.5" y="279.5" font-size="4.0" text-anchor="middle" font-weight="normal" font-family="'Liberation Sans', Arial, sans-serif" fill="#222">*</text>
<text x="0" y="0" font-size="3.0" text-anchor="end" font-family="'Liberation Sans', Arial, sans-serif" fill="#333" textLength="4.8" lengthAdjust="spacingAndGlyphs" transform="translate(34.80,329.70) rotate(-50)">WT</text>
<text x="0" y="0" font-size="3.0" text-anchor="end" font-family="'Liberation Sans', Arial, sans-serif" fill="#333" textLength="15.0" lengthAdjust="spacingAndGlyphs" transform="translate(61.40,329.70) rotate(-50)"><tspan font-style="italic">Aanat</tspan> KO</text>
<line x1="93.6" y1="273.1" x2="93.6" y2="325.7" stroke="#222" stroke-width="0.95"/>
<line x1="93.1" y1="325.7" x2="151.8" y2="325.7" stroke="#222" stroke-width="0.95"/>
<line x1="92.0" y1="325.70" x2="93.6" y2="325.70" stroke="#222" stroke-width="0.7"/>
<text x="0" y="0" font-size="10" text-rendering="geometricPrecision" text-anchor="end" font-weight="normal" font-family="'Liberation Sans', Arial, sans-serif" fill="#111" stroke="#111" stroke-width="0.69" transform="translate(91.70,326.60) scale(0.260)">0.0</text>
<line x1="92.0" y1="308.17" x2="93.6" y2="308.17" stroke="#222" stroke-width="0.7"/>
<text x="0" y="0" font-size="10" text-rendering="geometricPrecision" text-anchor="end" font-weight="normal" font-family="'Liberation Sans', Arial, sans-serif" fill="#111" stroke="#111" stroke-width="0.69" transform="translate(91.70,309.07) scale(0.260)">0.5</text>
<line x1="92.0" y1="290.63" x2="93.6" y2="290.63" stroke="#222" stroke-width="0.7"/>
<text x="0" y="0" font-size="10" text-rendering="geometricPrecision" text-anchor="end" font-weight="normal" font-family="'Liberation Sans', Arial, sans-serif" fill="#111" stroke="#111" stroke-width="0.69" transform="translate(91.70,291.53) scale(0.260)">1.0</text>
<line x1="92.0" y1="273.10" x2="93.6" y2="273.10" stroke="#222" stroke-width="0.7"/>
<text x="0" y="0" font-size="10" text-rendering="geometricPrecision" text-anchor="end" font-weight="normal" font-family="'Liberation Sans', Arial, sans-serif" fill="#111" stroke="#111" stroke-width="0.69" transform="translate(91.70,274.00) scale(0.260)">1.5</text>
<text x="0" y="0" font-size="10" text-rendering="geometricPrecision" text-anchor="middle" font-weight="normal" font-family="'Liberation Sans', Arial, sans-serif" fill="#111" stroke="#111" stroke-width="0.65" textLength="143.48" lengthAdjust="spacingAndGlyphs" transform="translate(83.00,301.50) rotate(-90) scale(0.230)">protein expression</text>
<rect x="103.00" y="290.50" width="17.8" height="35.2" fill="#000" stroke="#000" stroke-width="0.6"/>
<line x1="111.9" y1="289.5" x2="111.9" y2="290.2" stroke="#000" stroke-width="1.2"/>
<line x1="108.9" y1="289.5" x2="114.9" y2="289.5" stroke="#000" stroke-width="1"/>
<line x1="111.9" y1="325.7" x2="111.9" y2="327.2" stroke="#000" stroke-width="0.6"/>
<rect x="130.20" y="290.80" width="17.9" height="34.9" fill="#9a1e25" stroke="#861216" stroke-width="0.6"/>
<line x1="139.15" y1="285.1" x2="139.15" y2="290.5" stroke="#9a1e25" stroke-width="1.2"/>
<line x1="136.95000000000002" y1="285.1" x2="141.35" y2="285.1" stroke="#9a1e25" stroke-width="1"/>
<line x1="139.15" y1="325.7" x2="139.15" y2="327.2" stroke="#000" stroke-width="0.6"/>
<text x="125.0" y="267.2" font-size="3.9" text-anchor="middle" font-weight="bold" font-family="'Liberation Sans', Arial, sans-serif" fill="#000" textLength="10.4" lengthAdjust="spacingAndGlyphs" stroke="#000" stroke-width="0.12">MUC1</text>
<text x="0" y="0" font-size="3.0" text-anchor="end" font-family="'Liberation Sans', Arial, sans-serif" fill="#333" textLength="4.8" lengthAdjust="spacingAndGlyphs" transform="translate(112.80,329.90) rotate(-50)">WT</text>
<text x="0" y="0" font-size="3.0" text-anchor="end" font-family="'Liberation Sans', Arial, sans-serif" fill="#333" textLength="15.0" lengthAdjust="spacingAndGlyphs" transform="translate(140.05,329.90) rotate(-50)"><tspan font-style="italic">Aanat</tspan> KO</text>
<line x1="173.9" y1="273.4" x2="173.9" y2="324.9" stroke="#222" stroke-width="0.95"/>
<line x1="173.4" y1="324.9" x2="235.0" y2="324.9" stroke="#222" stroke-width="0.95"/>
<line x1="172.3" y1="324.90" x2="173.9" y2="324.90" stroke="#222" stroke-width="0.7"/>
<text x="0" y="0" font-size="10" text-rendering="geometricPrecision" text-anchor="end" font-weight="normal" font-family="'Liberation Sans', Arial, sans-serif" fill="#111" stroke="#111" stroke-width="0.69" transform="translate(172.00,325.80) scale(0.260)">0.0</text>
<line x1="172.3" y1="307.73" x2="173.9" y2="307.73" stroke="#222" stroke-width="0.7"/>
<text x="0" y="0" font-size="10" text-rendering="geometricPrecision" text-anchor="end" font-weight="normal" font-family="'Liberation Sans', Arial, sans-serif" fill="#111" stroke="#111" stroke-width="0.69" transform="translate(172.00,308.63) scale(0.260)">0.5</text>
<line x1="172.3" y1="290.57" x2="173.9" y2="290.57" stroke="#222" stroke-width="0.7"/>
<text x="0" y="0" font-size="10" text-rendering="geometricPrecision" text-anchor="end" font-weight="normal" font-family="'Liberation Sans', Arial, sans-serif" fill="#111" stroke="#111" stroke-width="0.69" transform="translate(172.00,291.47) scale(0.260)">1.0</text>
<line x1="172.3" y1="273.40" x2="173.9" y2="273.40" stroke="#222" stroke-width="0.7"/>
<text x="0" y="0" font-size="10" text-rendering="geometricPrecision" text-anchor="end" font-weight="normal" font-family="'Liberation Sans', Arial, sans-serif" fill="#111" stroke="#111" stroke-width="0.69" transform="translate(172.00,274.30) scale(0.260)">1.5</text>
<text x="0" y="0" font-size="10" text-rendering="geometricPrecision" text-anchor="middle" font-weight="normal" font-family="'Liberation Sans', Arial, sans-serif" fill="#111" stroke="#111" stroke-width="0.65" textLength="143.48" lengthAdjust="spacingAndGlyphs" transform="translate(163.30,301.25) rotate(-90) scale(0.230)">protein expression</text>
<rect x="183.30" y="303.00" width="18.1" height="21.9" fill="#000" stroke="#000" stroke-width="0.6"/>
<line x1="192.35" y1="299.0" x2="192.35" y2="302.7" stroke="#000" stroke-width="1.2"/>
<line x1="189.35" y1="299.0" x2="195.35" y2="299.0" stroke="#000" stroke-width="1"/>
<line x1="192.35" y1="324.9" x2="192.35" y2="326.4" stroke="#000" stroke-width="0.6"/>
<rect x="211.70" y="282.30" width="18.4" height="42.6" fill="#9a1e25" stroke="#861216" stroke-width="0.6"/>
<line x1="220.9" y1="275.9" x2="220.9" y2="282.0" stroke="#9a1e25" stroke-width="1.2"/>
<line x1="218.70000000000002" y1="275.9" x2="223.1" y2="275.9" stroke="#9a1e25" stroke-width="1"/>
<line x1="220.9" y1="324.9" x2="220.9" y2="326.4" stroke="#000" stroke-width="0.6"/>
<text x="205.1" y="266.9" font-size="3.9" text-anchor="middle" font-weight="bold" font-family="'Liberation Sans', Arial, sans-serif" fill="#000" textLength="18.6" lengthAdjust="spacingAndGlyphs" stroke="#000" stroke-width="0.12">CLAUDIN1</text>
<text x="220.6" y="275.0" font-size="4.0" text-anchor="middle" font-weight="normal" font-family="'Liberation Sans', Arial, sans-serif" fill="#222">*</text>
<text x="0" y="0" font-size="3.0" text-anchor="end" font-family="'Liberation Sans', Arial, sans-serif" fill="#333" textLength="4.8" lengthAdjust="spacingAndGlyphs" transform="translate(193.25,329.10) rotate(-50)">WT</text>
<text x="0" y="0" font-size="3.0" text-anchor="end" font-family="'Liberation Sans', Arial, sans-serif" fill="#333" textLength="15.0" lengthAdjust="spacingAndGlyphs" transform="translate(221.80,329.10) rotate(-50)"><tspan font-style="italic">Aanat</tspan> KO</text>
<line x1="253.9" y1="273.4" x2="253.9" y2="324.5" stroke="#222" stroke-width="0.95"/>
<line x1="253.4" y1="324.5" x2="318.5" y2="324.5" stroke="#222" stroke-width="0.95"/>
<line x1="252.3" y1="324.50" x2="253.9" y2="324.50" stroke="#222" stroke-width="0.7"/>
<text x="0" y="0" font-size="10" text-rendering="geometricPrecision" text-anchor="end" font-weight="normal" font-family="'Liberation Sans', Arial, sans-serif" fill="#111" stroke="#111" stroke-width="0.69" transform="translate(252.00,325.40) scale(0.260)">0.0</text>
<line x1="252.3" y1="307.47" x2="253.9" y2="307.47" stroke="#222" stroke-width="0.7"/>
<text x="0" y="0" font-size="10" text-rendering="geometricPrecision" text-anchor="end" font-weight="normal" font-family="'Liberation Sans', Arial, sans-serif" fill="#111" stroke="#111" stroke-width="0.69" transform="translate(252.00,308.37) scale(0.260)">0.5</text>
<line x1="252.3" y1="290.43" x2="253.9" y2="290.43" stroke="#222" stroke-width="0.7"/>
<text x="0" y="0" font-size="10" text-rendering="geometricPrecision" text-anchor="end" font-weight="normal" font-family="'Liberation Sans', Arial, sans-serif" fill="#111" stroke="#111" stroke-width="0.69" transform="translate(252.00,291.33) scale(0.260)">1.0</text>
<line x1="252.3" y1="273.40" x2="253.9" y2="273.40" stroke="#222" stroke-width="0.7"/>
<text x="0" y="0" font-size="10" text-rendering="geometricPrecision" text-anchor="end" font-weight="normal" font-family="'Liberation Sans', Arial, sans-serif" fill="#111" stroke="#111" stroke-width="0.69" transform="translate(252.00,274.30) scale(0.260)">1.5</text>
<text x="0" y="0" font-size="10" text-rendering="geometricPrecision" text-anchor="middle" font-weight="normal" font-family="'Liberation Sans', Arial, sans-serif" fill="#111" stroke="#111" stroke-width="0.65" textLength="143.48" lengthAdjust="spacingAndGlyphs" transform="translate(243.30,301.05) rotate(-90) scale(0.230)">protein expression</text>
<rect x="263.40" y="287.10" width="19.5" height="37.4" fill="#000" stroke="#000" stroke-width="0.6"/>
<line x1="273.15" y1="281.2" x2="273.15" y2="286.8" stroke="#000" stroke-width="1.2"/>
<line x1="270.15" y1="281.2" x2="276.15" y2="281.2" stroke="#000" stroke-width="1"/>
<line x1="273.15" y1="324.5" x2="273.15" y2="326.0" stroke="#000" stroke-width="0.6"/>
<rect x="292.30" y="312.10" width="19.2" height="12.4" fill="#9a1e25" stroke="#861216" stroke-width="0.6"/>
<line x1="301.9" y1="309.3" x2="301.9" y2="311.8" stroke="#9a1e25" stroke-width="1.2"/>
<line x1="299.7" y1="309.3" x2="304.09999999999997" y2="309.3" stroke="#9a1e25" stroke-width="1"/>
<line x1="301.9" y1="324.5" x2="301.9" y2="326.0" stroke="#000" stroke-width="0.6"/>
<text x="286.8" y="267.2" font-size="3.9" text-anchor="middle" font-weight="bold" font-family="'Liberation Sans', Arial, sans-serif" fill="#000" textLength="11.9" lengthAdjust="spacingAndGlyphs" stroke="#000" stroke-width="0.12">MMP2</text>
<text x="301.2" y="306.2" font-size="4.0" text-anchor="middle" font-weight="normal" font-family="'Liberation Sans', Arial, sans-serif" fill="#222">*</text>
<text x="0" y="0" font-size="3.0" text-anchor="end" font-family="'Liberation Sans', Arial, sans-serif" fill="#333" textLength="4.8" lengthAdjust="spacingAndGlyphs" transform="translate(274.05,328.70) rotate(-50)">WT</text>
<text x="0" y="0" font-size="3.0" text-anchor="end" font-family="'Liberation Sans', Arial, sans-serif" fill="#333" textLength="15.0" lengthAdjust="spacingAndGlyphs" transform="translate(302.80,328.70) rotate(-50)"><tspan font-style="italic">Aanat</tspan> KO</text>
<line x1="337.4" y1="273.6" x2="337.4" y2="325.6" stroke="#222" stroke-width="0.95"/>
<line x1="336.9" y1="325.6" x2="407.8" y2="325.6" stroke="#222" stroke-width="0.95"/>
<line x1="335.79999999999995" y1="325.60" x2="337.4" y2="325.60" stroke="#222" stroke-width="0.7"/>
<text x="0" y="0" font-size="10" text-rendering="geometricPrecision" text-anchor="end" font-weight="normal" font-family="'Liberation Sans', Arial, sans-serif" fill="#111" stroke="#111" stroke-width="0.69" transform="translate(335.50,326.50) scale(0.260)">0.0</text>
<line x1="335.79999999999995" y1="308.27" x2="337.4" y2="308.27" stroke="#222" stroke-width="0.7"/>
<text x="0" y="0" font-size="10" text-rendering="geometricPrecision" text-anchor="end" font-weight="normal" font-family="'Liberation Sans', Arial, sans-serif" fill="#111" stroke="#111" stroke-width="0.69" transform="translate(335.50,309.17) scale(0.260)">0.5</text>
<line x1="335.79999999999995" y1="290.93" x2="337.4" y2="290.93" stroke="#222" stroke-width="0.7"/>
<text x="0" y="0" font-size="10" text-rendering="geometricPrecision" text-anchor="end" font-weight="normal" font-family="'Liberation Sans', Arial, sans-serif" fill="#111" stroke="#111" stroke-width="0.69" transform="translate(335.50,291.83) scale(0.260)">1.0</text>
<line x1="335.79999999999995" y1="273.60" x2="337.4" y2="273.60" stroke="#222" stroke-width="0.7"/>
<text x="0" y="0" font-size="10" text-rendering="geometricPrecision" text-anchor="end" font-weight="normal" font-family="'Liberation Sans', Arial, sans-serif" fill="#111" stroke="#111" stroke-width="0.69" transform="translate(335.50,274.50) scale(0.260)">1.5</text>
<text x="0" y="0" font-size="10" text-rendering="geometricPrecision" text-anchor="middle" font-weight="normal" font-family="'Liberation Sans', Arial, sans-serif" fill="#111" stroke="#111" stroke-width="0.65" textLength="143.48" lengthAdjust="spacingAndGlyphs" transform="translate(326.80,301.70) rotate(-90) scale(0.230)">protein expression</text>
<rect x="347.30" y="291.40" width="19.2" height="34.2" fill="#000" stroke="#000" stroke-width="0.6"/>
<line x1="356.9" y1="285.8" x2="356.9" y2="291.1" stroke="#000" stroke-width="1.2"/>
<line x1="353.9" y1="285.8" x2="359.9" y2="285.8" stroke="#000" stroke-width="1"/>
<line x1="356.9" y1="325.6" x2="356.9" y2="327.1" stroke="#000" stroke-width="0.6"/>
<rect x="377.50" y="295.30" width="19.1" height="30.3" fill="#9a1e25" stroke="#861216" stroke-width="0.6"/>
<line x1="387.04999999999995" y1="290.4" x2="387.04999999999995" y2="295.0" stroke="#9a1e25" stroke-width="1.2"/>
<line x1="384.84999999999997" y1="290.4" x2="389.24999999999994" y2="290.4" stroke="#9a1e25" stroke-width="1"/>
<line x1="387.04999999999995" y1="325.6" x2="387.04999999999995" y2="327.1" stroke="#000" stroke-width="0.6"/>
<text x="371.2" y="267.4" font-size="3.9" text-anchor="middle" font-weight="bold" font-family="'Liberation Sans', Arial, sans-serif" fill="#000" textLength="12.0" lengthAdjust="spacingAndGlyphs" stroke="#000" stroke-width="0.12">MMP9</text>
<text x="0" y="0" font-size="3.0" text-anchor="end" font-family="'Liberation Sans', Arial, sans-serif" fill="#333" textLength="4.8" lengthAdjust="spacingAndGlyphs" transform="translate(357.80,329.80) rotate(-50)">WT</text>
<text x="0" y="0" font-size="3.0" text-anchor="end" font-family="'Liberation Sans', Arial, sans-serif" fill="#333" textLength="15.0" lengthAdjust="spacingAndGlyphs" transform="translate(387.95,329.80) rotate(-50)"><tspan font-style="italic">Aanat</tspan> KO</text>
<line x1="114.6" y1="477.1" x2="114.6" y2="528.4" stroke="#222" stroke-width="0.95"/>
<line x1="114.1" y1="528.4" x2="179.8" y2="528.4" stroke="#222" stroke-width="0.95"/>
<line x1="113.0" y1="528.40" x2="114.6" y2="528.40" stroke="#222" stroke-width="0.7"/>
<text x="0" y="0" font-size="10" text-rendering="geometricPrecision" text-anchor="end" font-weight="normal" font-family="'Liberation Sans', Arial, sans-serif" fill="#111" stroke="#111" stroke-width="0.69" transform="translate(112.70,529.30) scale(0.260)">0.0</text>
<line x1="113.0" y1="511.30" x2="114.6" y2="511.30" stroke="#222" stroke-width="0.7"/>
<text x="0" y="0" font-size="10" text-rendering="geometricPrecision" text-anchor="end" font-weight="normal" font-family="'Liberation Sans', Arial, sans-serif" fill="#111" stroke="#111" stroke-width="0.69" transform="translate(112.70,512.20) scale(0.260)">0.5</text>
<line x1="113.0" y1="494.20" x2="114.6" y2="494.20" stroke="#222" stroke-width="0.7"/>
<text x="0" y="0" font-size="10" text-rendering="geometricPrecision" text-anchor="end" font-weight="normal" font-family="'Liberation Sans', Arial, sans-serif" fill="#111" stroke="#111" stroke-width="0.69" transform="translate(112.70,495.10) scale(0.260)">1.0</text>
<line x1="113.0" y1="477.10" x2="114.6" y2="477.10" stroke="#222" stroke-width="0.7"/>
<text x="0" y="0" font-size="10" text-rendering="geometricPrecision" text-anchor="end" font-weight="normal" font-family="'Liberation Sans', Arial, sans-serif" fill="#111" stroke="#111" stroke-width="0.69" transform="translate(112.70,478.00) scale(0.260)">1.5</text>
<text x="0" y="0" font-size="10" text-rendering="geometricPrecision" text-anchor="middle" font-weight="normal" font-family="'Liberation Sans', Arial, sans-serif" fill="#111" stroke="#111" stroke-width="0.65" textLength="143.48" lengthAdjust="spacingAndGlyphs" transform="translate(104.00,504.85) rotate(-90) scale(0.230)">protein expression</text>
<rect x="124.10" y="505.10" width="17.9" height="23.3" fill="#000" stroke="#000" stroke-width="0.6"/>
<line x1="133.05" y1="501.5" x2="133.05" y2="504.8" stroke="#000" stroke-width="1.2"/>
<line x1="130.05" y1="501.5" x2="136.05" y2="501.5" stroke="#000" stroke-width="1"/>
<line x1="133.05" y1="528.4" x2="133.05" y2="529.9" stroke="#000" stroke-width="0.6"/>
<rect x="152.20" y="493.20" width="17.4" height="35.2" fill="#9a1e25" stroke="#861216" stroke-width="0.6"/>
<line x1="160.9" y1="487.2" x2="160.9" y2="492.9" stroke="#9a1e25" stroke-width="1.2"/>
<line x1="158.70000000000002" y1="487.2" x2="163.1" y2="487.2" stroke="#9a1e25" stroke-width="1"/>
<line x1="160.9" y1="528.4" x2="160.9" y2="529.9" stroke="#000" stroke-width="0.6"/>
<text x="146.4" y="470.9" font-size="3.9" text-anchor="middle" font-weight="bold" font-family="'Liberation Sans', Arial, sans-serif" fill="#000" textLength="9.0" lengthAdjust="spacingAndGlyphs" stroke="#000" stroke-width="0.12">JAK1</text>
<text x="0" y="0" font-size="3.0" text-anchor="end" font-family="'Liberation Sans', Arial, sans-serif" fill="#333" textLength="4.8" lengthAdjust="spacingAndGlyphs" transform="translate(133.95,532.60) rotate(-50)">WT</text>
<text x="0" y="0" font-size="3.0" text-anchor="end" font-family="'Liberation Sans', Arial, sans-serif" fill="#333" textLength="15.0" lengthAdjust="spacingAndGlyphs" transform="translate(161.80,532.60) rotate(-50)"><tspan font-style="italic">Aanat</tspan> KO</text>
<line x1="196.6" y1="476.5" x2="196.6" y2="528.2" stroke="#222" stroke-width="0.95"/>
<line x1="196.1" y1="528.2" x2="258.2" y2="528.2" stroke="#222" stroke-width="0.95"/>
<line x1="195.0" y1="528.20" x2="196.6" y2="528.20" stroke="#222" stroke-width="0.7"/>
<text x="0" y="0" font-size="10" text-rendering="geometricPrecision" text-anchor="end" font-weight="normal" font-family="'Liberation Sans', Arial, sans-serif" fill="#111" stroke="#111" stroke-width="0.69" transform="translate(194.70,529.10) scale(0.260)">0.0</text>
<line x1="195.0" y1="510.97" x2="196.6" y2="510.97" stroke="#222" stroke-width="0.7"/>
<text x="0" y="0" font-size="10" text-rendering="geometricPrecision" text-anchor="end" font-weight="normal" font-family="'Liberation Sans', Arial, sans-serif" fill="#111" stroke="#111" stroke-width="0.69" transform="translate(194.70,511.87) scale(0.260)">0.5</text>
<line x1="195.0" y1="493.73" x2="196.6" y2="493.73" stroke="#222" stroke-width="0.7"/>
<text x="0" y="0" font-size="10" text-rendering="geometricPrecision" text-anchor="end" font-weight="normal" font-family="'Liberation Sans', Arial, sans-serif" fill="#111" stroke="#111" stroke-width="0.69" transform="translate(194.70,494.63) scale(0.260)">1.0</text>
<line x1="195.0" y1="476.50" x2="196.6" y2="476.50" stroke="#222" stroke-width="0.7"/>
<text x="0" y="0" font-size="10" text-rendering="geometricPrecision" text-anchor="end" font-weight="normal" font-family="'Liberation Sans', Arial, sans-serif" fill="#111" stroke="#111" stroke-width="0.69" transform="translate(194.70,477.40) scale(0.260)">1.5</text>
<text x="0" y="0" font-size="10" text-rendering="geometricPrecision" text-anchor="middle" font-weight="normal" font-family="'Liberation Sans', Arial, sans-serif" fill="#111" stroke="#111" stroke-width="0.65" textLength="143.48" lengthAdjust="spacingAndGlyphs" transform="translate(186.00,504.45) rotate(-90) scale(0.230)">protein expression</text>
<rect x="205.10" y="498.90" width="17.5" height="29.3" fill="#000" stroke="#000" stroke-width="0.6"/>
<line x1="213.85000000000002" y1="494.5" x2="213.85000000000002" y2="498.6" stroke="#000" stroke-width="1.2"/>
<line x1="210.85000000000002" y1="494.5" x2="216.85000000000002" y2="494.5" stroke="#000" stroke-width="1"/>
<line x1="213.85000000000002" y1="528.2" x2="213.85000000000002" y2="529.7" stroke="#000" stroke-width="0.6"/>
<rect x="231.80" y="510.60" width="17.4" height="17.6" fill="#9a1e25" stroke="#861216" stroke-width="0.6"/>
<line x1="240.5" y1="508.3" x2="240.5" y2="510.3" stroke="#9a1e25" stroke-width="1.2"/>
<line x1="238.3" y1="508.3" x2="242.7" y2="508.3" stroke="#9a1e25" stroke-width="1"/>
<line x1="240.5" y1="528.2" x2="240.5" y2="529.7" stroke="#000" stroke-width="0.6"/>
<text x="226.8" y="470.9" font-size="3.9" text-anchor="middle" font-weight="bold" font-family="'Liberation Sans', Arial, sans-serif" fill="#000" textLength="9.0" lengthAdjust="spacingAndGlyphs" stroke="#000" stroke-width="0.12">JAK2</text>
<text x="240.7" y="506.6" font-size="4.0" text-anchor="middle" font-weight="normal" font-family="'Liberation Sans', Arial, sans-serif" fill="#222">*</text>
<text x="0" y="0" font-size="3.0" text-anchor="end" font-family="'Liberation Sans', Arial, sans-serif" fill="#333" textLength="4.8" lengthAdjust="spacingAndGlyphs" transform="translate(214.75,532.40) rotate(-50)">WT</text>
<text x="0" y="0" font-size="3.0" text-anchor="end" font-family="'Liberation Sans', Arial, sans-serif" fill="#333" textLength="15.0" lengthAdjust="spacingAndGlyphs" transform="translate(241.40,532.40) rotate(-50)"><tspan font-style="italic">Aanat</tspan> KO</text>
<line x1="273.6" y1="476.5" x2="273.6" y2="527.7" stroke="#222" stroke-width="0.95"/>
<line x1="273.1" y1="527.7" x2="334.0" y2="527.7" stroke="#222" stroke-width="0.95"/>
<line x1="272.0" y1="527.70" x2="273.6" y2="527.70" stroke="#222" stroke-width="0.7"/>
<text x="0" y="0" font-size="10" text-rendering="geometricPrecision" text-anchor="end" font-weight="normal" font-family="'Liberation Sans', Arial, sans-serif" fill="#111" stroke="#111" stroke-width="0.69" transform="translate(271.70,528.60) scale(0.260)">0.0</text>
<line x1="272.0" y1="510.63" x2="273.6" y2="510.63" stroke="#222" stroke-width="0.7"/>
<text x="0" y="0" font-size="10" text-rendering="geometricPrecision" text-anchor="end" font-weight="normal" font-family="'Liberation Sans', Arial, sans-serif" fill="#111" stroke="#111" stroke-width="0.69" transform="translate(271.70,511.53) scale(0.260)">0.5</text>
<line x1="272.0" y1="493.57" x2="273.6" y2="493.57" stroke="#222" stroke-width="0.7"/>
<text x="0" y="0" font-size="10" text-rendering="geometricPrecision" text-anchor="end" font-weight="normal" font-family="'Liberation Sans', Arial, sans-serif" fill="#111" stroke="#111" stroke-width="0.69" transform="translate(271.70,494.47) scale(0.260)">1.0</text>
<line x1="272.0" y1="476.50" x2="273.6" y2="476.50" stroke="#222" stroke-width="0.7"/>
<text x="0" y="0" font-size="10" text-rendering="geometricPrecision" text-anchor="end" font-weight="normal" font-family="'Liberation Sans', Arial, sans-serif" fill="#111" stroke="#111" stroke-width="0.69" transform="translate(271.70,477.40) scale(0.260)">1.5</text>
<text x="0" y="0" font-size="10" text-rendering="geometricPrecision" text-anchor="middle" font-weight="normal" font-family="'Liberation Sans', Arial, sans-serif" fill="#111" stroke="#111" stroke-width="0.65" textLength="143.48" lengthAdjust="spacingAndGlyphs" transform="translate(263.00,504.20) rotate(-90) scale(0.230)">protein expression</text>
<rect x="282.50" y="497.70" width="16.4" height="30.0" fill="#000" stroke="#000" stroke-width="0.6"/>
<line x1="290.7" y1="495.0" x2="290.7" y2="497.4" stroke="#000" stroke-width="1.2"/>
<line x1="287.7" y1="495.0" x2="293.7" y2="495.0" stroke="#000" stroke-width="1"/>
<line x1="290.7" y1="527.7" x2="290.7" y2="529.2" stroke="#000" stroke-width="0.6"/>
<rect x="308.70" y="510.00" width="16.4" height="17.7" fill="#9a1e25" stroke="#861216" stroke-width="0.6"/>
<line x1="316.9" y1="507.3" x2="316.9" y2="509.7" stroke="#9a1e25" stroke-width="1.2"/>
<line x1="314.7" y1="507.3" x2="319.09999999999997" y2="507.3" stroke="#9a1e25" stroke-width="1"/>
<line x1="316.9" y1="527.7" x2="316.9" y2="529.2" stroke="#000" stroke-width="0.6"/>
<text x="302.6" y="470.3" font-size="3.9" text-anchor="middle" font-weight="bold" font-family="'Liberation Sans', Arial, sans-serif" fill="#000" textLength="11.2" lengthAdjust="spacingAndGlyphs" stroke="#000" stroke-width="0.12">STAT3</text>
<text x="316.0" y="503.7" font-size="4.0" text-anchor="middle" font-weight="normal" font-family="'Liberation Sans', Arial, sans-serif" fill="#222">*</text>
<text x="0" y="0" font-size="3.0" text-anchor="end" font-family="'Liberation Sans', Arial, sans-serif" fill="#333" textLength="4.8" lengthAdjust="spacingAndGlyphs" transform="translate(291.60,531.90) rotate(-50)">WT</text>
<text x="0" y="0" font-size="3.0" text-anchor="end" font-family="'Liberation Sans', Arial, sans-serif" fill="#333" textLength="15.0" lengthAdjust="spacingAndGlyphs" transform="translate(317.80,531.90) rotate(-50)"><tspan font-style="italic">Aanat</tspan> KO</text>
<line x1="348.9" y1="476.5" x2="348.9" y2="527.7" stroke="#222" stroke-width="0.95"/>
<line x1="348.4" y1="527.7" x2="408.9" y2="527.7" stroke="#222" stroke-width="0.95"/>
<line x1="347.29999999999995" y1="527.70" x2="348.9" y2="527.70" stroke="#222" stroke-width="0.7"/>
<text x="0" y="0" font-size="10" text-rendering="geometricPrecision" text-anchor="end" font-weight="normal" font-family="'Liberation Sans', Arial, sans-serif" fill="#111" stroke="#111" stroke-width="0.69" transform="translate(347.00,528.60) scale(0.260)">0.0</text>
<line x1="347.29999999999995" y1="517.46" x2="348.9" y2="517.46" stroke="#222" stroke-width="0.7"/>
<text x="0" y="0" font-size="10" text-rendering="geometricPrecision" text-anchor="end" font-weight="normal" font-family="'Liberation Sans', Arial, sans-serif" fill="#111" stroke="#111" stroke-width="0.69" transform="translate(347.00,518.36) scale(0.260)">0.2</text>
<line x1="347.29999999999995" y1="507.22" x2="348.9" y2="507.22" stroke="#222" stroke-width="0.7"/>
<text x="0" y="0" font-size="10" text-rendering="geometricPrecision" text-anchor="end" font-weight="normal" font-family="'Liberation Sans', Arial, sans-serif" fill="#111" stroke="#111" stroke-width="0.69" transform="translate(347.00,508.12) scale(0.260)">0.4</text>
<line x1="347.29999999999995" y1="496.98" x2="348.9" y2="496.98" stroke="#222" stroke-width="0.7"/>
<text x="0" y="0" font-size="10" text-rendering="geometricPrecision" text-anchor="end" font-weight="normal" font-family="'Liberation Sans', Arial, sans-serif" fill="#111" stroke="#111" stroke-width="0.69" transform="translate(347.00,497.88) scale(0.260)">0.6</text>
<line x1="347.29999999999995" y1="486.74" x2="348.9" y2="486.74" stroke="#222" stroke-width="0.7"/>
<text x="0" y="0" font-size="10" text-rendering="geometricPrecision" text-anchor="end" font-weight="normal" font-family="'Liberation Sans', Arial, sans-serif" fill="#111" stroke="#111" stroke-width="0.69" transform="translate(347.00,487.64) scale(0.260)">0.8</text>
<line x1="347.29999999999995" y1="476.50" x2="348.9" y2="476.50" stroke="#222" stroke-width="0.7"/>
<text x="0" y="0" font-size="10" text-rendering="geometricPrecision" text-anchor="end" font-weight="normal" font-family="'Liberation Sans', Arial, sans-serif" fill="#111" stroke="#111" stroke-width="0.69" transform="translate(347.00,477.40) scale(0.260)">1.0</text>
<text x="0" y="0" font-size="10" text-rendering="geometricPrecision" text-anchor="middle" font-weight="normal" font-family="'Liberation Sans', Arial, sans-serif" fill="#111" stroke="#111" stroke-width="0.65" textLength="143.48" lengthAdjust="spacingAndGlyphs" transform="translate(338.30,504.20) rotate(-90) scale(0.230)">protein expression</text>
<rect x="357.60" y="493.20" width="16.8" height="34.5" fill="#000" stroke="#000" stroke-width="0.6"/>
<line x1="366.0" y1="488.2" x2="366.0" y2="492.9" stroke="#000" stroke-width="1.2"/>
<line x1="363.0" y1="488.2" x2="369.0" y2="488.2" stroke="#000" stroke-width="1"/>
<line x1="366.0" y1="527.7" x2="366.0" y2="529.2" stroke="#000" stroke-width="0.6"/>
<rect x="383.20" y="510.20" width="16.8" height="17.5" fill="#9a1e25" stroke="#861216" stroke-width="0.6"/>
<line x1="391.6" y1="506.2" x2="391.6" y2="509.9" stroke="#9a1e25" stroke-width="1.2"/>
<line x1="389.40000000000003" y1="506.2" x2="393.8" y2="506.2" stroke="#9a1e25" stroke-width="1"/>
<line x1="391.6" y1="527.7" x2="391.6" y2="529.2" stroke="#000" stroke-width="0.6"/>
<text x="377.4" y="470.5" font-size="3.9" text-anchor="middle" font-weight="bold" font-family="'Liberation Sans', Arial, sans-serif" fill="#000" textLength="14.5" lengthAdjust="spacingAndGlyphs" stroke="#000" stroke-width="0.12">P-STAT3</text>
<text x="391.5" y="503.1" font-size="4.0" text-anchor="middle" font-weight="normal" font-family="'Liberation Sans', Arial, sans-serif" fill="#222">*</text>
<text x="0" y="0" font-size="3.0" text-anchor="end" font-family="'Liberation Sans', Arial, sans-serif" fill="#333" textLength="4.8" lengthAdjust="spacingAndGlyphs" transform="translate(366.90,531.90) rotate(-50)">WT</text>
<text x="0" y="0" font-size="3.0" text-anchor="end" font-family="'Liberation Sans', Arial, sans-serif" fill="#333" textLength="15.0" lengthAdjust="spacingAndGlyphs" transform="translate(392.50,531.90) rotate(-50)"><tspan font-style="italic">Aanat</tspan> KO</text>
<text x="6.5" y="354.8" font-size="8.8" text-anchor="start" font-weight="bold" font-family="'Liberation Sans', Arial, sans-serif" fill="#000">E</text>
<text x="128.7" y="362.9" font-size="7.5" text-anchor="middle" font-weight="bold" font-family="'Liberation Sans', Arial, sans-serif" fill="#000" textLength="65.8" lengthAdjust="spacingAndGlyphs" stroke="#000" stroke-width="0.15">Transcription Factor</text>
<text x="56.9" y="375.3" font-size="7.0" text-anchor="middle" font-weight="normal" font-family="'Liberation Sans', Arial, sans-serif" fill="#111" stroke="#111" stroke-width="0.2">0</text>
<text x="89.4" y="375.3" font-size="7.0" text-anchor="middle" font-weight="normal" font-family="'Liberation Sans', Arial, sans-serif" fill="#111" stroke="#111" stroke-width="0.2">10</text>
<text x="123.9" y="375.3" font-size="7.0" text-anchor="middle" font-weight="normal" font-family="'Liberation Sans', Arial, sans-serif" fill="#111" stroke="#111" stroke-width="0.2">20</text>
<text x="158.3" y="375.3" font-size="7.0" text-anchor="middle" font-weight="normal" font-family="'Liberation Sans', Arial, sans-serif" fill="#111" stroke="#111" stroke-width="0.2">30</text>
<text x="192.2" y="375.3" font-size="7.0" text-anchor="middle" font-weight="normal" font-family="'Liberation Sans', Arial, sans-serif" fill="#111" stroke="#111" stroke-width="0.2">40</text>
<text x="226.1" y="375.3" font-size="7.0" text-anchor="middle" font-weight="normal" font-family="'Liberation Sans', Arial, sans-serif" fill="#111" stroke="#111" stroke-width="0.2">50</text>
<rect x="56.0" y="376.5" width="181.2" height="8.3" fill="#1a8ca8"/>
<text x="53.8" y="383.5" font-size="7.4" text-anchor="end" font-weight="bold" font-family="'Liberation Sans', Arial, sans-serif" fill="#111" textLength="26.24" lengthAdjust="spacingAndGlyphs" stroke="#111" stroke-width="0.15">zf-C2H2</text>
<rect x="56.0" y="389.7" width="93.0" height="8.0" fill="#1a8ca8"/>
<text x="53.8" y="395.6" font-size="7.4" text-anchor="end" font-weight="bold" font-family="'Liberation Sans', Arial, sans-serif" fill="#111" textLength="18.79" lengthAdjust="spacingAndGlyphs" stroke="#111" stroke-width="0.15">bHLH</text>
<rect x="56.0" y="402.8" width="90.1" height="8.2" fill="#f8c796"/>
<text x="53.8" y="411.0" font-size="7.4" text-anchor="end" font-weight="bold" font-family="'Liberation Sans', Arial, sans-serif" fill="#111" textLength="17.36" lengthAdjust="spacingAndGlyphs" stroke="#111" stroke-width="0.15">STAT</text>
<rect x="56.0" y="415.8" width="89.5" height="8.1" fill="#1a8ca8"/>
<text x="53.8" y="422.5" font-size="7.4" text-anchor="end" font-weight="bold" font-family="'Liberation Sans', Arial, sans-serif" fill="#111" textLength="36.43" lengthAdjust="spacingAndGlyphs" stroke="#111" stroke-width="0.15">Homeobox</text>
<rect x="56.0" y="428.9" width="73.3" height="8.1" fill="#1a8ca8"/>
<text x="53.8" y="434.3" font-size="7.4" text-anchor="end" font-weight="bold" font-family="'Liberation Sans', Arial, sans-serif" fill="#111" textLength="27.81" lengthAdjust="spacingAndGlyphs" stroke="#111" stroke-width="0.15">TF_bZIP</text>
<rect x="56.0" y="442.5" width="47.5" height="8.0" fill="#1a8ca8"/>
<text x="53.8" y="448.6" font-size="7.4" text-anchor="end" font-weight="bold" font-family="'Liberation Sans', Arial, sans-serif" fill="#111" textLength="22.72" lengthAdjust="spacingAndGlyphs" stroke="#111" stroke-width="0.15">Others</text>
<rect x="56.0" y="455.5" width="29.9" height="8.0" fill="#1a8ca8"/>
<text x="53.8" y="462.0" font-size="7.4" text-anchor="end" font-weight="bold" font-family="'Liberation Sans', Arial, sans-serif" fill="#111" textLength="12.93" lengthAdjust="spacingAndGlyphs" stroke="#111" stroke-width="0.15">E2F</text>
<rect x="56.0" y="468.7" width="29.1" height="8.1" fill="#1a8ca8"/>
<text x="53.8" y="476.0" font-size="7.4" text-anchor="end" font-weight="bold" font-family="'Liberation Sans', Arial, sans-serif" fill="#111" textLength="16.45" lengthAdjust="spacingAndGlyphs" stroke="#111" stroke-width="0.15">HMG</text>
<rect x="56.0" y="482.6" width="24.5" height="7.8" fill="#1a8ca8"/>
<text x="53.8" y="490.0" font-size="7.4" text-anchor="end" font-weight="bold" font-family="'Liberation Sans', Arial, sans-serif" fill="#111" textLength="12.39" lengthAdjust="spacingAndGlyphs" stroke="#111" stroke-width="0.15">Tub</text>
<rect x="56.0" y="496.1" width="21.6" height="7.7" fill="#1a8ca8"/>
<text x="53.8" y="503.4" font-size="7.4" text-anchor="end" font-weight="bold" font-family="'Liberation Sans', Arial, sans-serif" fill="#111" textLength="15.67" lengthAdjust="spacingAndGlyphs" stroke="#111" stroke-width="0.15">MYB</text>
<line x1="89.40" y1="376.5" x2="89.40" y2="384.80" stroke="#fff" stroke-width="1.3"/>
<line x1="123.90" y1="376.5" x2="123.90" y2="384.80" stroke="#fff" stroke-width="1.3"/>
<line x1="158.30" y1="376.5" x2="158.30" y2="384.80" stroke="#fff" stroke-width="1.3"/>
<line x1="192.20" y1="376.5" x2="192.20" y2="384.80" stroke="#fff" stroke-width="1.3"/>
<line x1="226.10" y1="376.5" x2="226.10" y2="384.80" stroke="#fff" stroke-width="1.3"/>
<line x1="89.40" y1="389.7" x2="89.40" y2="397.70" stroke="#fff" stroke-width="1.3"/>
<line x1="123.90" y1="389.7" x2="123.90" y2="397.70" stroke="#fff" stroke-width="1.3"/>
<line x1="89.40" y1="402.8" x2="89.40" y2="411.00" stroke="#fff" stroke-width="1.3"/>
<line x1="123.90" y1="402.8" x2="123.90" y2="411.00" stroke="#fff" stroke-width="1.3"/>
<line x1="89.40" y1="415.8" x2="89.40" y2="423.90" stroke="#fff" stroke-width="1.3"/>
<line x1="123.90" y1="415.8" x2="123.90" y2="423.90" stroke="#fff" stroke-width="1.3"/>
<line x1="89.40" y1="428.9" x2="89.40" y2="437.00" stroke="#fff" stroke-width="1.3"/>
<line x1="123.90" y1="428.9" x2="123.90" y2="437.00" stroke="#fff" stroke-width="1.3"/>
<line x1="89.40" y1="442.5" x2="89.40" y2="450.50" stroke="#fff" stroke-width="1.3"/>
<text x="0" y="0" font-size="7.4" font-weight="bold" text-anchor="middle" font-family="'Liberation Sans', Arial, sans-serif" fill="#111" stroke="#111" stroke-width="0.15" textLength="24" lengthAdjust="spacingAndGlyphs" transform="translate(11.4,421.5) rotate(-90)">Family</text>
</svg>
</body></html>
